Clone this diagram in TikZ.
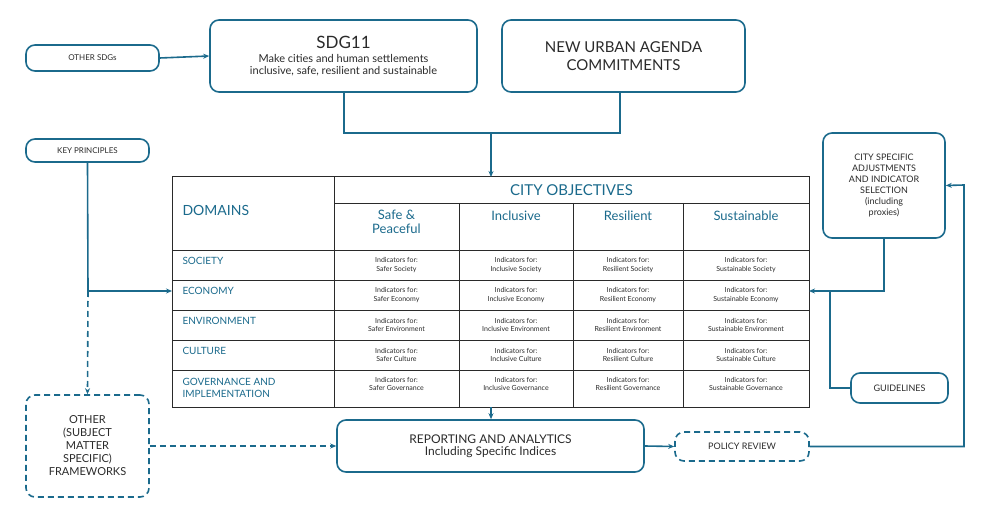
\documentclass[tikz,border=0pt]{standalone}
\usepackage{fontspec}
\setmainfont{Lato}
\usetikzlibrary{arrows.meta}
\definecolor{tl}{HTML}{1B6A8C}
\definecolor{tx}{HTML}{2A2A2A}
\begin{document}
\begin{tikzpicture}[x=1pt,y=-1pt,
 box/.style={draw=tl,line width=1.6pt,rounded corners=9pt,align=center,text=tx,inner sep=0pt},
 dbox/.style={box,dashed,dash pattern=on 6pt off 4pt},
 con/.style={draw=tl,line width=1.6pt},
 arr/.style={con,-{Stealth[length=6pt,width=5pt]}},
 dom/.style={anchor=west,text=tl,font=\fontsize{10}{11}\selectfont,align=left},
 hd/.style={text=tl,font=\fontsize{13}{14}\selectfont,align=center},
 ind/.style={text=tx,font=\fontsize{7}{8.5}\selectfont,align=center}]
\useasboundingbox (0,0) rectangle (990,518);
% boxes
\node[box,minimum width=133pt,minimum height=26pt,font=\fontsize{8}{9}\selectfont] (sdgs) at (92.5,58) {OTHER SDGs};
\node[box,minimum width=267pt,minimum height=72pt] (sdg) at (343.5,56) {{\fontsize{17}{20}\selectfont SDG11}\\[2pt]{\fontsize{11}{13}\selectfont Make cities and human settlements}\\{\fontsize{11}{13}\selectfont inclusive, safe, resilient and sustainable}};
\node[box,minimum width=243pt,minimum height=72pt,font=\fontsize{15}{18}\selectfont] (nua) at (623.5,56) {NEW URBAN AGENDA\\COMMITMENTS};
\node[box,minimum width=123pt,minimum height=23pt,font=\fontsize{8}{9}\selectfont] (kp) at (87.5,150.5) {KEY PRINCIPLES};
\node[dbox,minimum width=123pt,minimum height=102pt,font=\fontsize{11}{13}\selectfont] (oth) at (87.5,446) {OTHER\\(SUBJECT\\MATTER\\SPECIFIC)\\FRAMEWORKS};
\node[box,minimum width=307pt,minimum height=52pt] (rep) at (490.5,446) {{\fontsize{12}{14}\selectfont REPORTING AND ANALYTICS}\\{\fontsize{12}{14}\selectfont Including Specific Indices}};
\node[dbox,minimum width=134pt,minimum height=29pt,font=\fontsize{9}{10}\selectfont] (pol) at (742,446.5) {POLICY REVIEW};
\node[box,minimum width=122pt,minimum height=105pt,font=\fontsize{9}{11}\selectfont] (city) at (884,185.5) {CITY SPECIFIC\\ADJUSTMENTS\\AND INDICATOR\\SELECTION\\(including\\proxies)};
\node[box,minimum width=97pt,minimum height=30pt,font=\fontsize{9}{10}\selectfont] (gui) at (899.5,388) {GUIDELINES};
% table
\node[minimum width=637pt,minimum height=230pt,inner sep=0pt] (tab) at (490.5,292) {};
\draw[tx,line width=1pt] (172,177) rectangle (809,407);
\draw[tx,line width=0.9pt] (334,177)--(334,407) (459,203)--(459,407) (573,203)--(573,407) (683,203)--(683,407)
 (334,203)--(809,203) (172,250)--(809,250) (172,280)--(809,280) (172,310)--(809,310) (172,340)--(809,340) (172,370)--(809,370);
\node[hd,font=\fontsize{15}{16}\selectfont] at (571.5,190) {CITY OBJECTIVES};
\node[dom,font=\fontsize{14}{15}\selectfont] at (179,210) {DOMAINS};
\node[hd,anchor=north] at (396.5,207) {Safe \&\\Peaceful};
\node[hd,anchor=north] at (516,207) {Inclusive};
\node[hd,anchor=north] at (628,207) {Resilient};
\node[hd,anchor=north] at (746,207) {Sustainable};
\foreach \n/\y in {SOCIETY/261,ECONOMY/291,ENVIRONMENT/321,CULTURE/351} \node[dom] at (179,\y) {\n};
\node[dom,font=\fontsize{10}{12}\selectfont] at (179,388) {GOVERNANCE AND\\IMPLEMENTATION};
\foreach \r/\y in {Society/265,Economy/295,Environment/325,Culture/355,Governance/384}{
 \node[ind] at (396.5,\y) {Indicators for:\\Safer \r};
 \node[ind] at (516,\y) {Indicators for:\\Inclusive \r};
 \node[ind] at (628,\y) {Indicators for:\\Resilient \r};
 \node[ind] at (746,\y) {Indicators for:\\Sustainable \r};}
% connectors
\draw[arr] (sdgs.east) -- (sdg.west);
\draw[con] (sdg.south -| 344,0) -- (344,133) -- (620,133) -- (nua.south -| 620,0);
\coordinate (j) at (491,133);
\draw[arr] (j) -- (491,177);
\draw[arr] (491,407) -- (rep.north -| 491,0);
\draw[con] (kp.south) -- (88,291);
\draw[arr] (88,291) -- (172,291);
\draw[con,dashed,dash pattern=on 6pt off 4pt,-{Stealth[length=6pt,width=5pt]}] (88,291) -- (oth.north);
\draw[con,dashed,dash pattern=on 6pt off 4pt,-{Stealth[length=6pt,width=5pt]}] (oth.east) -- (rep.west);
\draw[arr] (rep.east) -- (pol.west);
\draw[arr] (pol.east) -- (964,446.5) -- (964,185) -- (city.east);
\draw[arr] (city.south) -- (884,291) -- (809,291);
\draw[con] (gui.west) -- (830,388) -- (830,291);
\end{tikzpicture}
\end{document}
